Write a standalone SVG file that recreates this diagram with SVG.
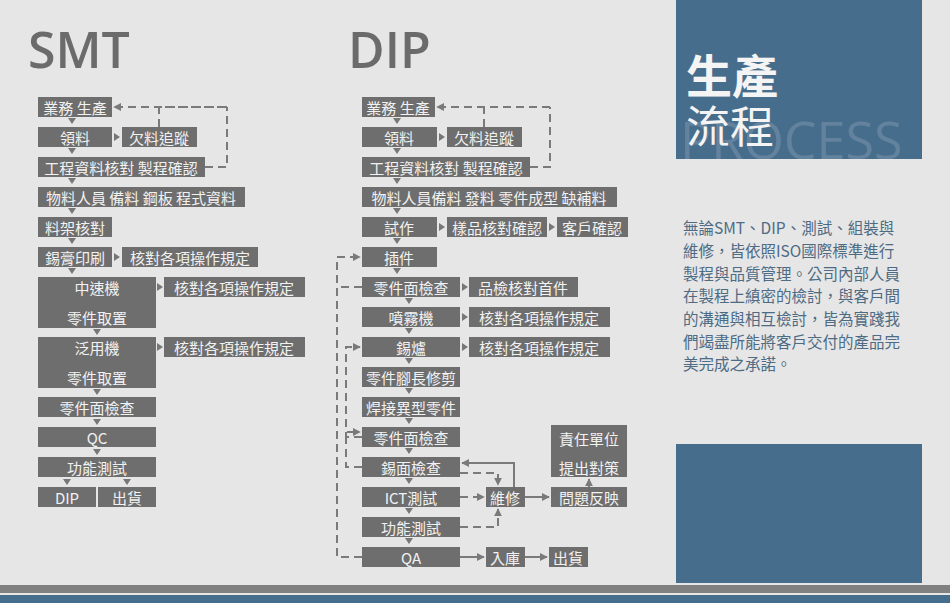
<svg xmlns="http://www.w3.org/2000/svg" width="950" height="603" viewBox="0 0 950 603">
<defs>
<style>
.b{fill:#6e6e6e}
.t{fill:#f2f2f2;font-family:"Noto Sans CJK TC","Noto Sans",sans-serif;font-size:15px;text-anchor:middle;dominant-baseline:central}
.h{fill:#6b6b6b;font-family:"Open Sans","Noto Sans",sans-serif;font-size:50px;font-weight:600}
.a{fill:#777}
.d{fill:none;stroke:#7a7a7a;stroke-width:2;stroke-dasharray:8 5}
.s{fill:none;stroke:#7a7a7a;stroke-width:2}
.p{fill:#4e6b84;font-family:"Noto Sans CJK TC","Noto Sans",sans-serif;font-size:15.5px}
</style>
<marker id="m" viewBox="0 0 10 10" refX="9" refY="5" markerWidth="4" markerHeight="4" orient="auto"><path d="M0 0L10 5L0 10z" fill="#7a7a7a"/></marker>
<radialGradient id="sh" cx="0.5" cy="0" r="0.5"><stop offset="0" stop-color="#333" stop-opacity="0.9"/><stop offset="1" stop-color="#e6e6e6" stop-opacity="0"/></radialGradient>
<clipPath id="cp"><rect x="676" y="0" width="246" height="159"/></clipPath>
</defs>
<rect width="950" height="603" fill="#e6e6e6"/>
<ellipse cx="430" cy="0" rx="270" ry="16" fill="url(#sh)"/>
<rect x="676" y="0" width="246" height="159" fill="#476d8c"/>
<text x="680" y="159" clip-path="url(#cp)" font-family="Open Sans,sans-serif" font-size="52" fill="#ffffff" fill-opacity="0.15">PROCESS</text>
<text x="686" y="93" fill="#f4f4f4" font-family="Noto Sans CJK TC,sans-serif" font-size="46" font-weight="bold">生產</text>
<text x="686" y="143" fill="#f4f4f4" font-family="Noto Sans CJK TC,sans-serif" font-size="44">流程</text>
<rect x="676" y="444" width="246" height="139" fill="#476d8c"/>
<rect x="0" y="585" width="950" height="8" fill="#808080"/>
<rect x="0" y="595" width="950" height="8" fill="#476d8c"/>
<text class="h" x="28" y="68">SMT</text>
<text class="h" x="348" y="68">DIP</text>
<g class="p">
<text x="683" y="234">無論SMT、DIP、測試、組裝與</text>
<text x="683" y="257">維修，皆依照ISO國際標準進行</text>
<text x="683" y="280">製程與品質管理。公司內部人員</text>
<text x="683" y="302">在製程上縝密的檢討，與客戶間</text>
<text x="683" y="325">的溝通與相互檢討，皆為實踐我</text>
<text x="683" y="348">們竭盡所能將客戶交付的產品完</text>
<text x="683" y="370">美完成之承諾。</text>
</g>
<!-- SMT nodes -->
<g id="s1"><rect class="b" x="38" y="97" width="74" height="20"/><text class="t" x="75" y="107">業務 生產</text></g>
<g id="s2"><rect class="b" x="38" y="127" width="74" height="20"/><text class="t" x="75" y="137">領料</text></g>
<g id="s3"><rect class="b" x="122" y="127" width="75" height="20"/><text class="t" x="159" y="137">欠料追蹤</text></g>
<g id="s4"><rect class="b" x="38" y="157" width="167" height="20"/><text class="t" x="121" y="167">工程資料核對 製程確認</text></g>
<g id="s5"><rect class="b" x="38" y="187" width="207" height="20"/><text class="t" x="141" y="197">物料人員 備料 鋼板 程式資料</text></g>
<g id="s6"><rect class="b" x="38" y="217" width="74" height="20"/><text class="t" x="75" y="227">料架核對</text></g>
<g id="s7"><rect class="b" x="38" y="247" width="74" height="20"/><text class="t" x="75" y="257">錫膏印刷</text></g>
<g id="s8"><rect class="b" x="122" y="247" width="136" height="20"/><text class="t" x="190" y="257">核對各項操作規定</text></g>
<g id="s9"><rect class="b" x="38" y="277" width="118" height="51"/><text class="t" x="97" y="287">中速機</text><text class="t" x="97" y="317">零件取置</text></g>
<g id="s10"><rect class="b" x="164" y="277" width="141" height="20"/><text class="t" x="234" y="287">核對各項操作規定</text></g>
<g id="s11"><rect class="b" x="38" y="337" width="118" height="51"/><text class="t" x="97" y="347">泛用機</text><text class="t" x="97" y="377">零件取置</text></g>
<g id="s12"><rect class="b" x="164" y="337" width="141" height="20"/><text class="t" x="234" y="347">核對各項操作規定</text></g>
<g id="s13"><rect class="b" x="38" y="397" width="118" height="20"/><text class="t" x="97" y="407">零件面檢查</text></g>
<g id="s14"><rect class="b" x="38" y="427" width="118" height="20"/><text class="t" x="97" y="437">QC</text></g>
<g id="s15"><rect class="b" x="38" y="457" width="118" height="20"/><text class="t" x="97" y="467">功能測試</text></g>
<g id="s16"><rect class="b" x="38" y="487" width="58" height="20"/><text class="t" x="67" y="497">DIP</text></g>
<g id="s17"><rect class="b" x="98" y="487" width="58" height="20"/><text class="t" x="127" y="497">出貨</text></g>
<!-- DIP nodes -->
<g id="d1"><rect class="b" x="362" y="97" width="73" height="20"/><text class="t" x="398" y="107">業務 生產</text></g>
<g id="d2"><rect class="b" x="362" y="127" width="75" height="20"/><text class="t" x="399" y="137">領料</text></g>
<g id="d3"><rect class="b" x="447" y="127" width="75" height="20"/><text class="t" x="484" y="137">欠料追蹤</text></g>
<g id="d4"><rect class="b" x="362" y="157" width="168" height="20"/><text class="t" x="446" y="167">工程資料核對 製程確認</text></g>
<g id="d5"><rect class="b" x="362" y="187" width="255" height="20"/><text class="t" x="489" y="197">物料人員備料 發料 零件成型 缺補料</text></g>
<g id="d6"><rect class="b" x="362" y="217" width="75" height="20"/><text class="t" x="399" y="227">試作</text></g>
<g id="d7"><rect class="b" x="447" y="217" width="100" height="20"/><text class="t" x="497" y="227">樣品核對確認</text></g>
<g id="d8"><rect class="b" x="557" y="217" width="71" height="20"/><text class="t" x="592" y="227">客戶確認</text></g>
<g id="d9"><rect class="b" x="362" y="247" width="75" height="20"/><text class="t" x="399" y="257">插件</text></g>
<g id="d10"><rect class="b" x="362" y="277" width="98" height="20"/><text class="t" x="411" y="287">零件面檢查</text></g>
<g id="d11"><rect class="b" x="469" y="277" width="109" height="20"/><text class="t" x="523" y="287">品檢核對首件</text></g>
<g id="d12"><rect class="b" x="362" y="307" width="98" height="20"/><text class="t" x="411" y="317">噴霧機</text></g>
<g id="d13"><rect class="b" x="469" y="307" width="141" height="20"/><text class="t" x="539" y="317">核對各項操作規定</text></g>
<g id="d14"><rect class="b" x="362" y="337" width="98" height="20"/><text class="t" x="411" y="347">錫爐</text></g>
<g id="d15"><rect class="b" x="469" y="337" width="141" height="20"/><text class="t" x="539" y="347">核對各項操作規定</text></g>
<g id="d16"><rect class="b" x="362" y="367" width="98" height="20"/><text class="t" x="411" y="377">零件腳長修剪</text></g>
<g id="d17"><rect class="b" x="362" y="397" width="98" height="20"/><text class="t" x="411" y="407">焊接異型零件</text></g>
<g id="d18"><rect class="b" x="362" y="427" width="98" height="20"/><text class="t" x="411" y="437">零件面檢查</text></g>
<g id="d19"><rect class="b" x="362" y="457" width="98" height="20"/><text class="t" x="411" y="467">錫面檢查</text></g>
<g id="d20"><rect class="b" x="362" y="487" width="98" height="20"/><text class="t" x="411" y="497">ICT測試</text></g>
<g id="d21"><rect class="b" x="362" y="517" width="98" height="20"/><text class="t" x="411" y="527">功能測試</text></g>
<g id="d22"><rect class="b" x="362" y="547" width="98" height="20"/><text class="t" x="411" y="557">QA</text></g>
<g id="d23"><rect class="b" x="486" y="487" width="39" height="20"/><text class="t" x="505" y="497">維修</text></g>
<g id="d24"><rect class="b" x="551" y="487" width="76" height="20"/><text class="t" x="589" y="497">問題反映</text></g>
<g id="d25"><rect class="b" x="551" y="425" width="76" height="52"/><text class="t" x="589" y="438">責任單位</text><text class="t" x="589" y="467">提出對策</text></g>
<g id="d26"><rect class="b" x="486" y="547" width="39" height="20"/><text class="t" x="505" y="557">入庫</text></g>
<g id="d27"><rect class="b" x="549" y="547" width="39" height="20"/><text class="t" x="568" y="557">出貨</text></g>
<!-- connectors -->
<g id="connectors">
<g class="a">
<path d="M68 118h8l-4 6z M68 148h8l-4 6z M68 178h8l-4 6z M68 208h8l-4 6z M68 238h8l-4 6z M68 268h8l-4 6z"/>
<path d="M93 329h8l-4 6z M93 389h8l-4 6z M93 419h8l-4 6z M93 449h8l-4 6z M63 479h8l-4 6z M123 479h8l-4 6z"/>
<path d="M114 133v8l6-4z M114 253v8l6-4z M157 283v8l6-4z M157 343v8l6-4z"/>
<path d="M393 118h8l-4 6z M393 148h8l-4 6z M393 178h8l-4 6z M393 208h8l-4 6z M393 238h8l-4 6z M393 268h8l-4 6z"/>
<path d="M405 298h8l-4 6z M405 328h8l-4 6z M405 358h8l-4 6z M405 388h8l-4 6z M405 418h8l-4 6z M405 448h8l-4 6z M405 478h8l-4 6z M405 508h8l-4 6z M405 538h8l-4 6z"/>
<path d="M439 133v8l6-4z M439 223v8l6-4z M549 223v8l6-4z M462 283v8l6-4z M462 313v8l6-4z M462 343v8l6-4z"/>
</g>
<path class="d" d="M159 127V107H227M227 107H114" marker-end="url(#m)"/>
<path class="d" d="M205 167H227V107"/>
<path class="d" d="M484 127V107H550M550 107H437" marker-end="url(#m)"/>
<path class="d" d="M530 167H550V107"/>
<path class="d" d="M362 557H337V257H360" marker-end="url(#m)"/>
<path class="d" d="M362 287H337"/>
<path class="d" d="M362 437H346V347H360" marker-end="url(#m)"/>
<path class="d" d="M362 467H346V432H360" marker-end="url(#m)"/>
<path class="d" d="M460 473H498V485" marker-end="url(#m)"/>
<path class="d" d="M460 497H484" marker-end="url(#m)"/>
<path class="d" d="M460 527H498V509" marker-end="url(#m)"/>
<path class="s" d="M514 487V463H462" marker-end="url(#m)"/>
<path class="s" d="M525 497H549" marker-end="url(#m)"/>
<path class="s" d="M589 487V479" marker-end="url(#m)"/>
<path class="s" d="M460 557H484" marker-end="url(#m)"/>
<path class="s" d="M525 557H547" marker-end="url(#m)"/>
</g>
</svg>
